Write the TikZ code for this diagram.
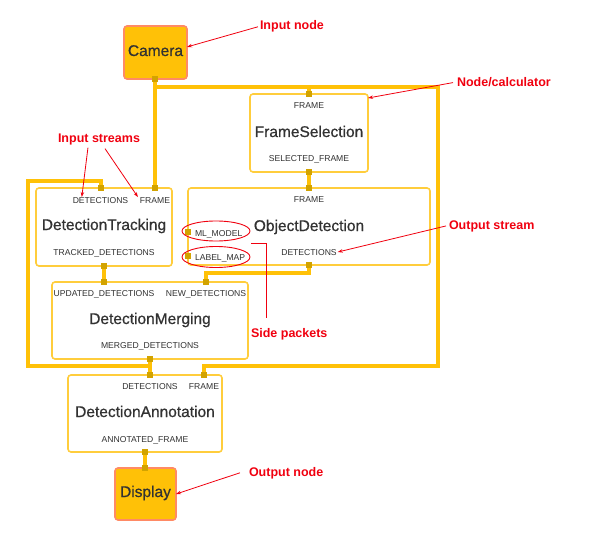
\documentclass[tikz,border=0pt]{standalone}
\usepackage{fontspec}
\setmainfont{Liberation Sans}
\newfontfamily\mediumface[FakeBold=0.7]{Liberation Sans}
\usetikzlibrary{arrows.meta,shapes.geometric}

\definecolor{amber}{RGB}{255,193,7}
\definecolor{amberedge}{RGB}{255,205,60}
\definecolor{portgold}{RGB}{210,163,0}
\definecolor{salmon}{RGB}{255,138,101}
\definecolor{inkgrey}{RGB}{50,50,50}
\definecolor{notered}{RGB}{240,0,15}

\begin{document}
\begin{tikzpicture}[x=1pt, y=-1pt,
every node/.style={inner sep=0pt, outer sep=0pt, text=inkgrey},
calc/.style={draw=amberedge, line width=1.6pt, rounded corners=3pt, fill=white},
io/.style={draw=salmon, fill=amber, line width=1.6pt, rounded corners=3pt},
port/.style={fill=portgold, minimum size=6.5pt},
title/.style={anchor=base, font=\mediumface\fontsize{15.5}{18}\selectfont},
plabel/.style={anchor=base, font=\fontsize{8.6}{10}\selectfont},
tag/.style={anchor=base west, text=notered, font=\fontsize{12.5}{15}\selectfont\bfseries},
stream/.style={draw=amber, line width=3.2pt},
note/.style={draw=notered, line width=0.8pt},
ring/.style={ellipse, draw=notered, line width=0.9pt}
]
\useasboundingbox (0,0) rectangle (591,540);

% calculators and in/out nodes
\foreach \n/\x/\y/\w/\h in {fsel/309/133/118pt/78pt, objdet/309/226.5/242pt/77pt,
                            track/104/227/136pt/78pt, merge/150/320.5/196pt/77pt,
                            annot/145/413.5/154pt/77pt}
    \node[calc, minimum width=\w, minimum height=\h] (\n) at (\x,\y) {};
\node[io, minimum width=63pt, minimum height=53pt] (camera) at (155.5,52.5) {};
\node[io, minimum width=61pt, minimum height=52pt] (display) at (145.5,494) {};

\foreach \n/\x/\y/\t in {camera-t/155.5/56/Camera, display-t/145.5/497/Display,
                         fsel-t/309/137/FrameSelection, objdet-t/309/231/ObjectDetection,
                         track-t/104/230/DetectionTracking, merge-t/150/324/DetectionMerging,
                         annot-t/145/417/DetectionAnnotation}
    \node[title] (\n) at (\x,\y) {\t};

\foreach \n/\x/\y/\t in {fs-lin/309/109/FRAME, fs-lout/309/162/SELECTED\_FRAME,
                         od-lin/309/202/FRAME, od-lout/309/255/DETECTIONS,
                         dt-lin1/100.5/203/DETECTIONS, dt-lin2/155/203/FRAME,
                         dt-lout/104/255/TRACKED\_DETECTIONS,
                         dm-lin1/104/296/UPDATED\_DETECTIONS, dm-lin2/206/296/NEW\_DETECTIONS,
                         dm-lout/150/348/MERGED\_DETECTIONS,
                         da-lin1/150/389/DETECTIONS, da-lin2/204/389/FRAME,
                         da-lout/145/442/ANNOTATED\_FRAME}
    \node[plabel] (\n) at (\x,\y) {\t};
\node[plabel, anchor=base west] (od-lside1) at (195,236) {ML\_MODEL};
\node[plabel, anchor=base west] (od-lside2) at (195,260) {LABEL\_MAP};

\foreach \p/\x/\y in {cam-out/155/79, fs-in/309/94, fs-out/309/172,
                      od-in/309/188, od-out/309/265, od-side1/188/232, od-side2/188/256,
                      dt-in1/101/188, dt-in2/155/188, dt-out/104/266,
                      dm-in1/104/282, dm-in2/206/282, dm-out/150/359,
                      da-in1/150/375, da-in2/204/375, da-out/145/452, disp-in/145/468}
    \node[port] (\p) at (\x,\y) {};

% streams
\coordinate (topbus) at (0,87);
\coordinate (rightbus) at (438,0);
\coordinate (lowbus) at (0,366);
\coordinate (leftbus) at (28,0);
\coordinate (loopbus) at (0,181);
\coordinate (odbend) at (0,273);

\foreach \i/\j in {cam-out/dt-in2, fs-out/od-in, dt-out/dm-in1, dm-out/da-in1, da-out/disp-in}
    \draw[stream] (\i) -- (\j);
\draw[stream] (cam-out |- topbus) -| (rightbus |- lowbus) -| (da-in2);
\draw[stream] (fs-in |- topbus) -- (fs-in);
\draw[stream] (od-out) -- (od-out |- odbend) -| (dm-in2);
\draw[stream] (dm-out |- lowbus) -| (leftbus |- loopbus) -| (dt-in1);

% annotations
\node[tag] (tag-input) at (260,30) {Input node};
\node[tag] (tag-calc) at (457,87) {Node/calculator};
\node[tag] (tag-streams) at (58,143) {Input streams};
\node[tag] (tag-out) at (449,229) {Output stream};
\node[tag] (tag-side) at (251,337) {Side packets};
\node[tag] (tag-disp) at (249,476) {Output node};

\node[ring, minimum width=68pt, minimum height=20pt] (ml-ring) at (216,231) {};
\node[ring, minimum width=68pt, minimum height=21pt] (lm-ring) at (216,257) {};
\coordinate (side-fork) at (251,243);
\coordinate (side-foot) at (266,318);

\draw[note, -{Stealth[length=5pt,width=3.5pt]}] ([xshift=-2pt]tag-input.west) -- (camera.10);
\draw[note, -{Stealth[length=5pt,width=3.5pt]}] ([xshift=-4pt]tag-calc.west) -- ([yshift=-4pt]fsel.north east);
\draw[note, -{Stealth[length=5pt,width=3.5pt]}] ([xshift=-11pt,yshift=-2pt]tag-streams.south) -- ([xshift=9pt]dt-lin1.north west);
\draw[note, -{Stealth[length=5pt,width=3.5pt]}] ([xshift=6pt,yshift=-3pt]tag-streams.south) -- ([xshift=-2pt]dt-lin2.north west);
\draw[note, -{Stealth[length=5pt,width=3.5pt]}] ([xshift=-3pt]tag-out.west) -- ([xshift=1pt]od-lout.east);
\draw[note, -{Stealth[length=5pt,width=3.5pt]}] ([xshift=-9pt]tag-disp.west) -- (display.east);
\draw[note] (side-fork) -| (side-foot);
\end{tikzpicture}
\end{document}
